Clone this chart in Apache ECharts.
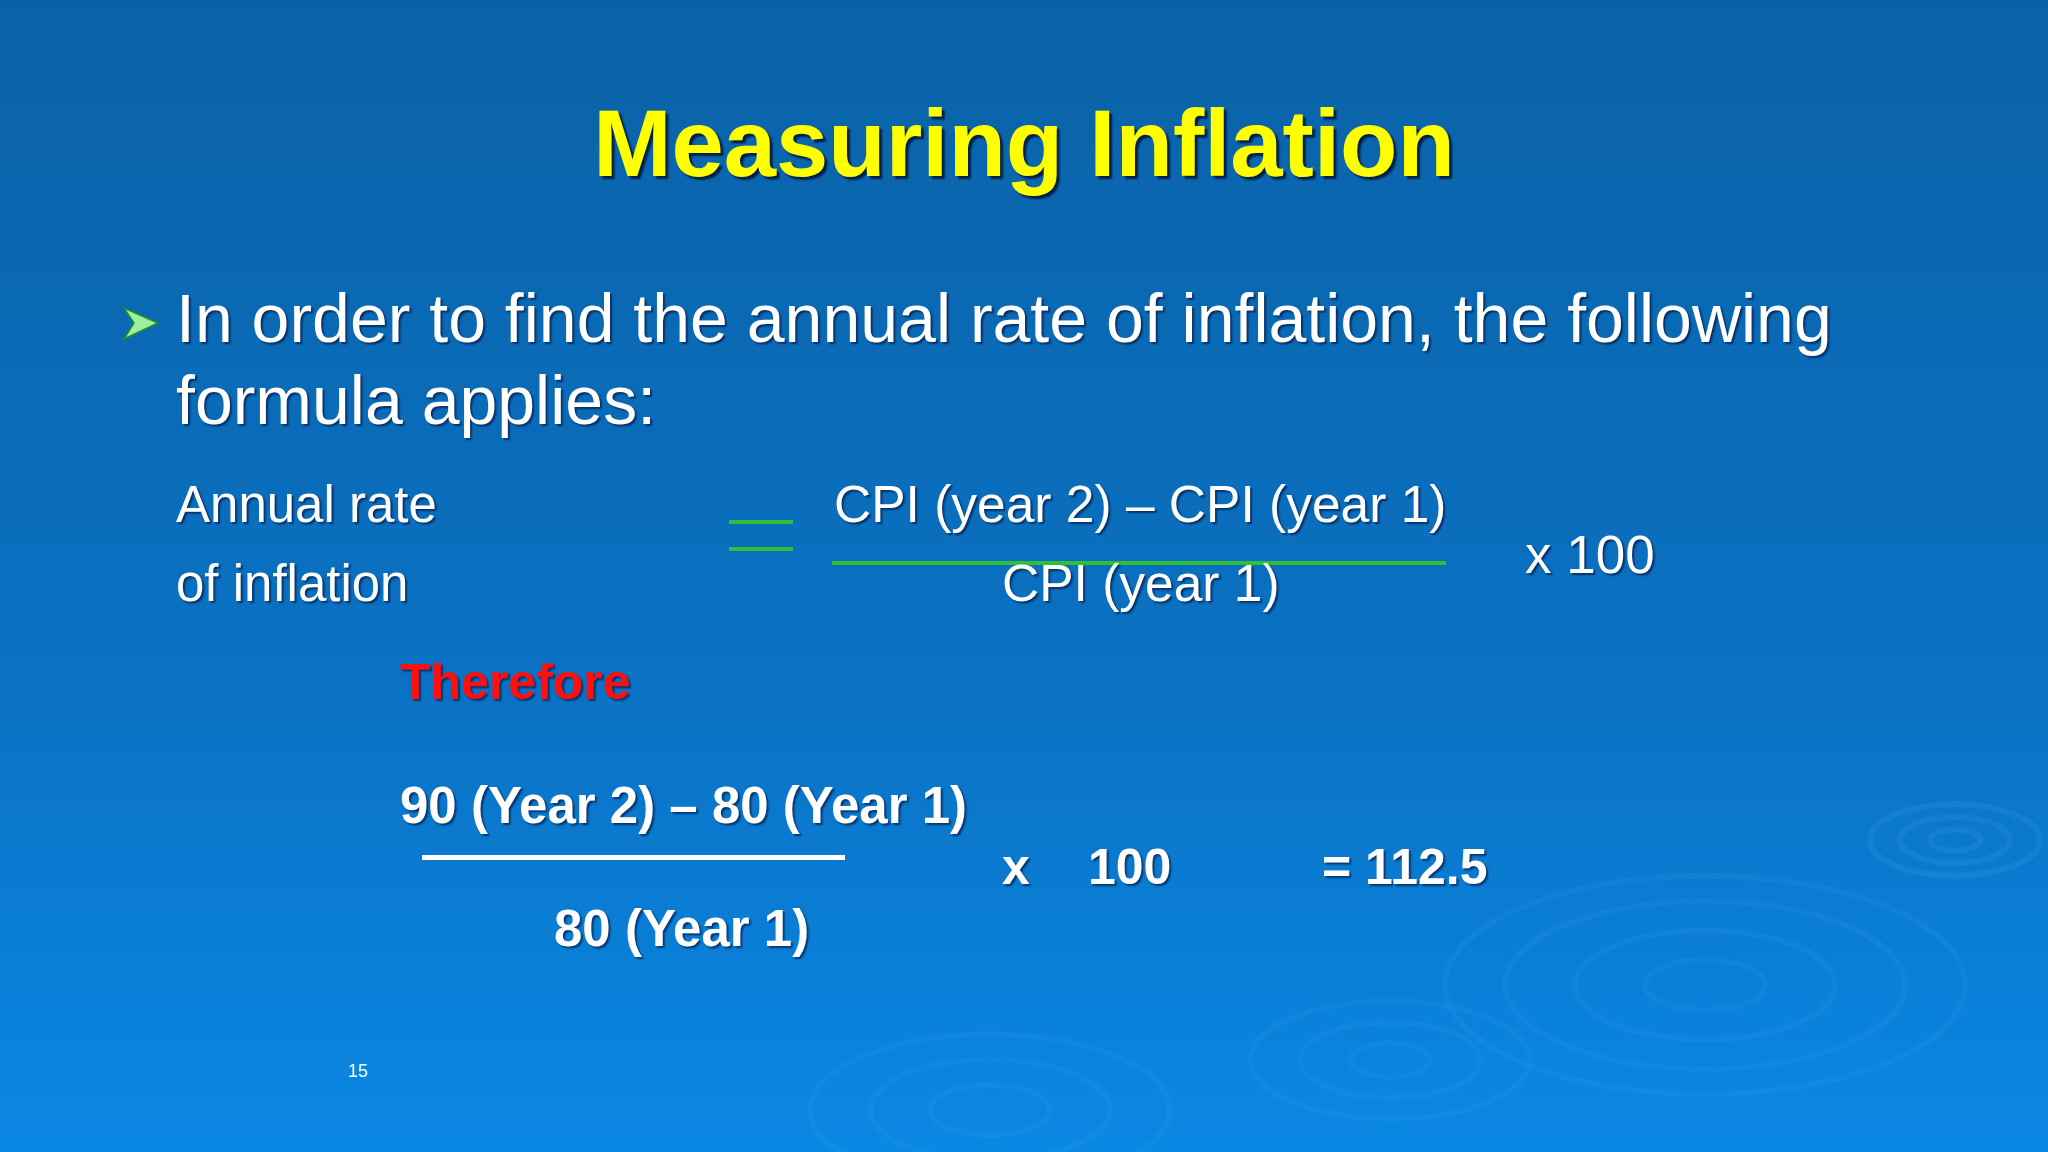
<!DOCTYPE html>
<html><head><meta charset="utf-8">
<script src="https://cdn.jsdelivr.net/npm/echarts@6/dist/echarts.min.js"></script>
<style>html,body{margin:0;padding:0;width:2048px;height:1152px;overflow:hidden}#c{width:2048px;height:1152px}</style>
</head><body><div id="c"></div>
<script>
const titleText = "Measuring Inflation";
const bulletLines = ["In order to find the annual rate of inflation, the following", "formula applies:"];
const lhsLines = ["Annual rate", "of inflation"];
const formulaNum = "CPI (year 2) \u2013 CPI (year 1)";
const formulaDen = "CPI (year 1)";
const formulaMul = "x 100";
const thereforeText = "Therefore";
const exampleNum = "90 (Year 2) \u2013 80 (Year 1)";
const exampleDen = "80 (Year 1)";
const exampleParts = ["x", "100", "= 112.5"];
const pageNo = "15";

const chart = echarts.init(document.getElementById('c'));
const F = 'Liberation Sans, Arial, sans-serif';
function txt(x, y, t, size, color, bold) {
  return {type:'text', x, y, style:{text:t, fill:color, font:(bold?'bold ':'')+size+'px '+F, textVerticalAlign:'middle', textShadowColor:'rgba(0,0,40,0.55)', textShadowOffsetX:2, textShadowOffsetY:2, textShadowBlur:2}};
}
function ripple(cx, cy, radii, op) {
  return radii.map(r => ({type:'ellipse', shape:{cx, cy, rx:r, ry:r*0.42}, style:{fill:'none', stroke:'rgba(120,200,255,'+op+')', lineWidth:6}}));
}
const g = [
  {type:'rect', shape:{x:0,y:0,width:2048,height:1152}, style:{fill:new echarts.graphic.LinearGradient(0,0,0,1,[{offset:0,color:'#0a62a6'},{offset:0.6,color:'#0a72c4'},{offset:1,color:'#0a88e4'}])}},
  ...ripple(1705, 985, [60,130,200,260], 0.07),
  ...ripple(1955, 840, [25,55,85], 0.1),
  ...ripple(1390, 1060, [40,90,140], 0.06),
  ...ripple(990, 1110, [60,120,180], 0.06),
  {type:'text', x:1024, y:150, style:{text:titleText, fill:'#ffff00', font:'bold 94px '+F, textAlign:'center', textVerticalAlign:'middle', textShadowColor:'rgba(0,0,30,0.7)', textShadowOffsetX:3, textShadowOffsetY:3, textShadowBlur:2}},
  {type:'polygon', shape:{points:[[124,308],[158,323],[124,339],[134,323]]}, style:{fill:'#9cf09c', stroke:'#2a8a2a', lineWidth:1.5}},
  txt(176, 323, bulletLines[0], 68, '#ffffff', false),
  txt(176, 405, bulletLines[1], 68, '#ffffff', false),
  txt(176, 508, lhsLines[0], 51, '#ffffff', false),
  txt(176, 587, lhsLines[1], 51, '#ffffff', false),
  {type:'rect', shape:{x:729,y:520,width:64,height:4}, style:{fill:'#2fbf3a'}},
  {type:'rect', shape:{x:729,y:547,width:64,height:4}, style:{fill:'#2fbf3a'}},
  txt(834, 508, formulaNum, 51.5, '#ffffff', false),
  {type:'rect', shape:{x:832,y:561,width:614,height:4}, style:{fill:'#2fbf3a'}},
  txt(1002, 587, formulaDen, 51.5, '#ffffff', false),
  txt(1525, 558, formulaMul, 53, '#ffffff', false),
  txt(400, 685, thereforeText, 50, '#ff1010', true),
  txt(400, 809, exampleNum, 51, '#ffffff', true),
  {type:'rect', shape:{x:422,y:855,width:423,height:5}, style:{fill:'#ffffff'}},
  txt(554, 932, exampleDen, 51, '#ffffff', true),
  txt(1002, 870, exampleParts[0], 50, '#ffffff', true),
  txt(1088, 870, exampleParts[1], 50, '#ffffff', true),
  txt(1322, 870, exampleParts[2], 50, '#ffffff', true),
  {type:'text', x:348, y:1072, style:{text:pageNo, fill:'#ffffff', font:'18px '+F, textVerticalAlign:'middle'}}
];
chart.setOption({animation:false, graphic:g});
</script></body></html>
